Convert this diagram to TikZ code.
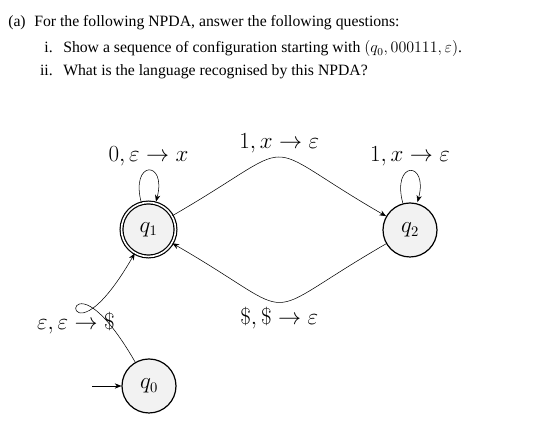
\documentclass[tikz,border=0pt]{standalone}
\usepackage[no-math]{fontspec}
\setmainfont{Liberation Serif}
\usepackage{amsmath}
\usetikzlibrary{arrows.meta}

\begin{document}
\begin{tikzpicture}[x=0.75pt, y=0.75pt,
    txt/.style={anchor=base west, font=\fontsize{11.8}{14}\selectfont, inner sep=0pt},
    lab/.style={font=\fontsize{16}{19}\selectfont},
    st/.style={circle, draw=black, line width=0.9pt, fill=gray!10, minimum size=40.5pt,
        inner sep=0pt, font=\fontsize{16}{19}\selectfont},
    >={Stealth[length=5pt, width=4pt]}]
    \useasboundingbox (0,0) rectangle (533,438);
    % question text
    \node[txt] (qa) at (8,411) {(a)};
    \node[txt] (qt) at (34,411) {For the following NPDA, answer the following questions:};
    \node[txt, anchor=base east] (i1) at (53,385) {i.};
    \node[txt] (t1) at (63,385) {Show a sequence of configuration starting with $(q_0, 000111, \varepsilon)$.};
    \node[txt, anchor=base east] (i2) at (53,362) {ii.};
    \node[txt] (t2) at (63,362) {What is the language recognised by this NPDA?};
    % states
    \node[st] (q0) at (149,52) {$q_0$};
    \node[st, double, double distance=1.2pt] (q1) at (148.5,208.5) {$q_1$};
    \node[st] (q2) at (410,208) {$q_2$};
    \coordinate (s0) at (92,52);
    % transitions
    \draw[->] (s0) -- (q0);
    \draw[->] (q0) to[out=120, in=240, looseness=3.7]
        node[below, lab] {$\varepsilon, \varepsilon \to \$$} (q1);
    \path (q1) edge[->, loop above] node[above, lab] {$0, \varepsilon \to x$} ();
    \draw[->] (q1) to[out=30, in=150, looseness=1.87]
        node[above, lab] {$1, x \to \varepsilon$} (q2);
    \path (q2) edge[->, loop above] node[above, lab] {$1, x \to \varepsilon$} ();
    \draw[->] (q2) to[out=210, in=330, looseness=1.87]
        node[below, lab] {$\$, \$ \to \varepsilon$} (q1);
\end{tikzpicture}
\end{document}
